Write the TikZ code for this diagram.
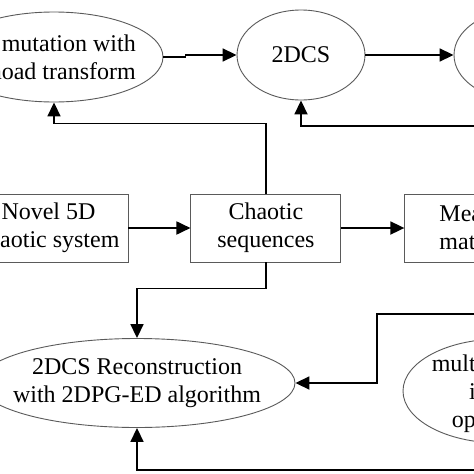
\documentclass[tikz,border=0pt]{standalone}
\usepackage{fontspec}
\setmainfont{Liberation Serif}
\usetikzlibrary{positioning,calc,shapes.geometric,arrows.meta}
\definecolor{Edge}{HTML}{5A5A5A}

\begin{document}
\begin{tikzpicture}[
    x=1pt, y=-1pt,
    every node/.style={font=\fontsize{24}{28}\selectfont, text=black},
    box/.style={rectangle, draw=Edge, line width=0.9pt, minimum height=68pt, align=center, inner sep=0pt},
    oval/.style={ellipse, draw=Edge, line width=0.9pt, inner sep=0pt},
    txt/.style={inner sep=0pt},
    arrow/.style={-{Triangle[length=14pt,width=13pt]}, line width=1.8pt, black}
  ]
    \useasboundingbox (0,0) rectangle (474,474);
    \clip (0,0) rectangle (474,474);
    \fill [white] (0,0) rectangle (474,474);

    % Top row
    \node (perm) [oval, minimum width=218pt, minimum height=90pt] at (54,57) {};
    \node (permtxt) [txt, anchor=east, align=right] at ($(perm.center)+(82,0)$) {mutation with\\hoad transform};
    \node (dcs) [oval, minimum width=128pt, minimum height=90pt] at (301,55) {2DCS};
    \node (enc) [oval, minimum width=132pt, minimum height=90pt] at (520,55) {};

    % Middle row
    \node (novel) [box, minimum width=159pt] at (48.5,228) {Novel 5D\\chaotic system};
    \node (chaos) [box, minimum width=150pt, right=62pt of novel] {Chaotic\\sequences};
    \node (meas) [box, minimum width=200pt, align=left, right=63pt of chaos] {Measurement\\matrix};

    % Bottom row
    \node (recon) [oval, minimum width=316pt, minimum height=89pt] at (137,383) {};
    \node (recontxt) [txt, align=center] at (recon.center) {2DCS Reconstruction\\with 2DPG-ED algorithm};
    \node (multi) [oval, minimum width=194pt, minimum height=104pt] at (500,391) {};
    \node (multitxt) [txt, anchor=east, align=right] at (476,394) {mult\\i\\op};

    % Loose ends past the right border
    \coordinate (fbtop) at (480,126);
    \coordinate (fbmid) at (480,314);
    \coordinate (fbbot) at (480,470);

    % Connections
    \draw [arrow] (perm.east) -- ++(22,0) |- (dcs.west);
    \draw [arrow] (dcs.east) -- (enc.west);
    \draw [arrow] (chaos.north) -- ++(0,-70) -| (perm.south);
    \draw [arrow] (fbtop) -| (dcs.south);
    \draw [arrow] (novel) -- (chaos);
    \draw [arrow] (chaos) -- (meas);
    \draw [arrow] (chaos.south) -- ++(0,26) -| (recon.north);
    \draw [arrow] (fbmid) -- ++(-103,0) |- (recon.east);
    \draw [arrow] (fbbot) -| (recon.south);
  \end{tikzpicture}
\end{document}
